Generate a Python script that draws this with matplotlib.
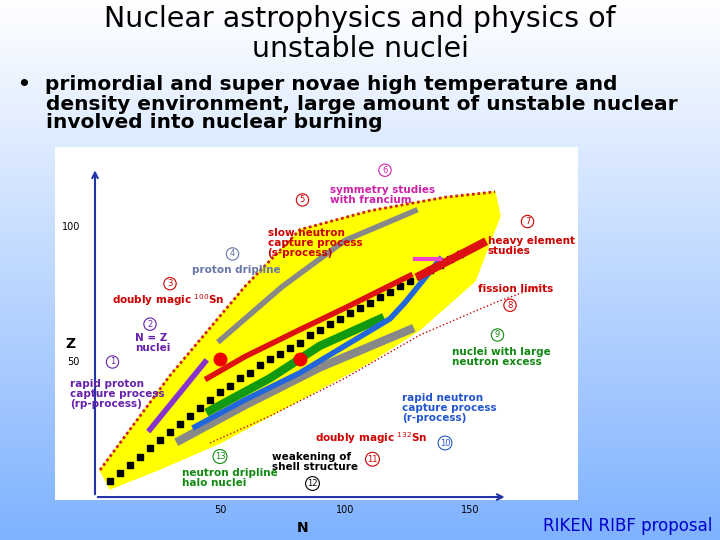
import matplotlib.pyplot as plt
import numpy as np

# chart data (N, Z)
band_upper_n = [2, 30, 60, 82, 110, 140, 160]
band_upper_z = [10, 45, 78, 99, 106, 111, 113]
band_lower_n = [162, 152, 130, 110, 82, 50, 25, 6]
band_lower_z = [104, 80, 62, 50, 36, 20, 10, 3]
stab_n = [6, 10, 14, 18, 22, 26, 30, 34, 38, 42, 46, 50, 54, 58, 62, 66, 70, 74, 78, 82,
          86, 90, 94, 98, 102, 106, 110, 114, 118, 122, 126, 130, 134, 138, 142, 146]
stab_z = [6, 9, 12, 15, 18, 21, 24, 27, 30, 33, 36, 39, 41, 44, 46, 49, 51, 53, 55, 57,
          60, 62, 64, 66, 68, 70, 72, 74, 76, 78, 80, 82, 84, 86, 88, 90]
rp_n = [22, 44]; rp_z = [25, 50]
s_n = [45, 60, 82, 100, 126]; s_z = [44, 52, 62, 70, 82]
fis_n = [130, 155]; fis_z = [82, 94]
r_n = [40, 60, 82, 100, 118, 124, 138]; r_z = [26, 36, 46, 56, 66, 72, 88]
g_n = [46, 70, 90, 114]; g_z = [32, 44, 56, 66]
k_n = [34, 60, 90, 126]; k_z = [21, 34, 48, 62]
gray_n = [50, 75, 100, 128]; gray_z = [58, 78, 95, 106]
drip_n = [46, 70, 100, 130, 160, 178]; drip_z = [20, 30, 44, 60, 72, 78]
magic_n = [50, 82]; magic_z = [51, 51]

fig = plt.figure(figsize=(7.2, 5.4), dpi=100)
bg = fig.add_axes([0, 0, 1, 1])
grad = np.linspace(0, 1, 256).reshape(-1, 1)
bg.imshow(grad, extent=[0, 720, 540, 0], cmap=plt.matplotlib.colors.LinearSegmentedColormap.from_list('g', ['#ffffff', '#7fb2ff']), aspect='auto')
bg.set_xlim(0, 720); bg.set_ylim(540, 0); bg.axis('off')
bg.text(360, 34, "Nuclear astrophysics and physics of\nunstable nuclei", ha='center', va='center', fontsize=20.5, linespacing=1.1)
bg.text(18, 104, "•  primordial and super novae high temperature and\n    density environment, large amount of unstable nuclear\n    involved into nuclear burning",
        ha='left', va='center', fontsize=14.5, fontweight='bold', linespacing=1.0)
bg.text(712, 526, "RIKEN RIBF proposal", ha='right', va='center', fontsize=12, color='#0000cc')

ax = fig.add_axes([55 / 720, 1 - 500 / 540, 523 / 720, 353 / 540])
ax.set_xlim(-16, 193.2); ax.set_ylim(-1.1, 129.6)
ax.set_facecolor('white')
for s in ax.spines.values():
    s.set_visible(False)
ax.set_xticks([]); ax.set_yticks([])

ax.fill(band_upper_n + band_lower_n, band_upper_z + band_lower_z, color='#ffff00', zorder=1)
ax.plot(band_upper_n, band_upper_z, color='#cc2222', lw=2, ls=(0, (1, 1)), zorder=2)
ax.plot(stab_n, stab_z, 's', color='black', ms=4, zorder=3)
ax.plot(drip_n, drip_z, ':', color='#cc0000', lw=1, zorder=2)
ax.plot(k_n, k_z, color='#888888', lw=6, zorder=4)
ax.plot(g_n, g_z, color='#119911', lw=6, zorder=5)
ax.plot(r_n, r_z, color='#2266dd', lw=4, zorder=6)
ax.plot(s_n, s_z, color='#dd1111', lw=4, zorder=6)
ax.plot(gray_n, gray_z, color='#888888', lw=4, zorder=4)
ax.plot(fis_n, fis_z, color='#dd1111', lw=6, zorder=6)
ax.plot(rp_n, rp_z, color='#8833cc', lw=4, zorder=6)
ax.plot([128, 138], [88, 88], color='#ee44cc', lw=3, zorder=6)
ax.plot(magic_n, magic_z, 'o', color='#ee0000', ms=9, zorder=7)

# axes of the chart
ax.annotate('', xy=(0, 122), xytext=(0, 0), arrowprops=dict(arrowstyle='->', color='#2233aa', lw=1.5))
ax.annotate('', xy=(165, 0), xytext=(0, 0), arrowprops=dict(arrowstyle='->', color='#2233aa', lw=1.5))
ax.text(-6, 100, "100", ha='right', va='center', fontsize=7)
ax.text(-6, 50, "50", ha='right', va='center', fontsize=7)
ax.text(-12, 55, "Z", fontsize=10, fontweight='bold')
for v in [50, 100, 150]:
    ax.text(v, -3, str(v), ha='center', va='top', fontsize=7)
ax.text(83, -9, "N", ha='center', va='top', fontsize=10, fontweight='bold')

labels = [
    (-10, 38, "rapid proton\ncapture process\n(rp-process)", '#6622aa', 1, (7, 50)),
    (16, 57, "N = Z\nnuclei", '#6622aa', 2, (22, 64)),
    (7, 73, "doubly magic $^{100}$Sn", '#cc0000', 3, (30, 79)),
    (39, 84, "proton dripline", '#6677aa', 4, (55, 90)),
    (69, 94, "slow neutron\ncapture process\n(s-process)", '#cc0000', 5, (83, 110)),
    (94, 112, "symmetry studies\nwith francium", '#cc22aa', 6, (116, 121)),
    (157, 93, "heavy element\nstudies", '#cc0000', 7, (173, 102)),
    (153, 77, "fission limits", '#cc0000', 8, (166, 71)),
    (143, 52, "nuclei with large\nneutron excess", '#118811', 9, (161, 60)),
    (123, 33, "rapid neutron\ncapture process\n(r-process)", '#2255cc', 10, (140, 20)),
    (88, 22, "doubly magic $^{132}$Sn", '#cc0000', 11, (111, 14)),
    (71, 13, "weakening of\nshell structure", 'black', 12, (87, 5)),
    (35, 7, "neutron dripline\nhalo nuclei", '#118811', 13, (50, 15)),
]
for x, y, t, c, num, (cx, cy) in labels:
    ax.text(x, y, t, color=c, fontsize=7.5, fontweight='bold', ha='left', va='center', linespacing=1.0, zorder=8)
    ax.text(cx, cy, str(num), color=c, fontsize=6, ha='center', va='center', zorder=8,
            bbox=dict(boxstyle='circle,pad=0.2', fc='white', ec=c, lw=0.8))

fig.savefig('out.png', dpi=100)
